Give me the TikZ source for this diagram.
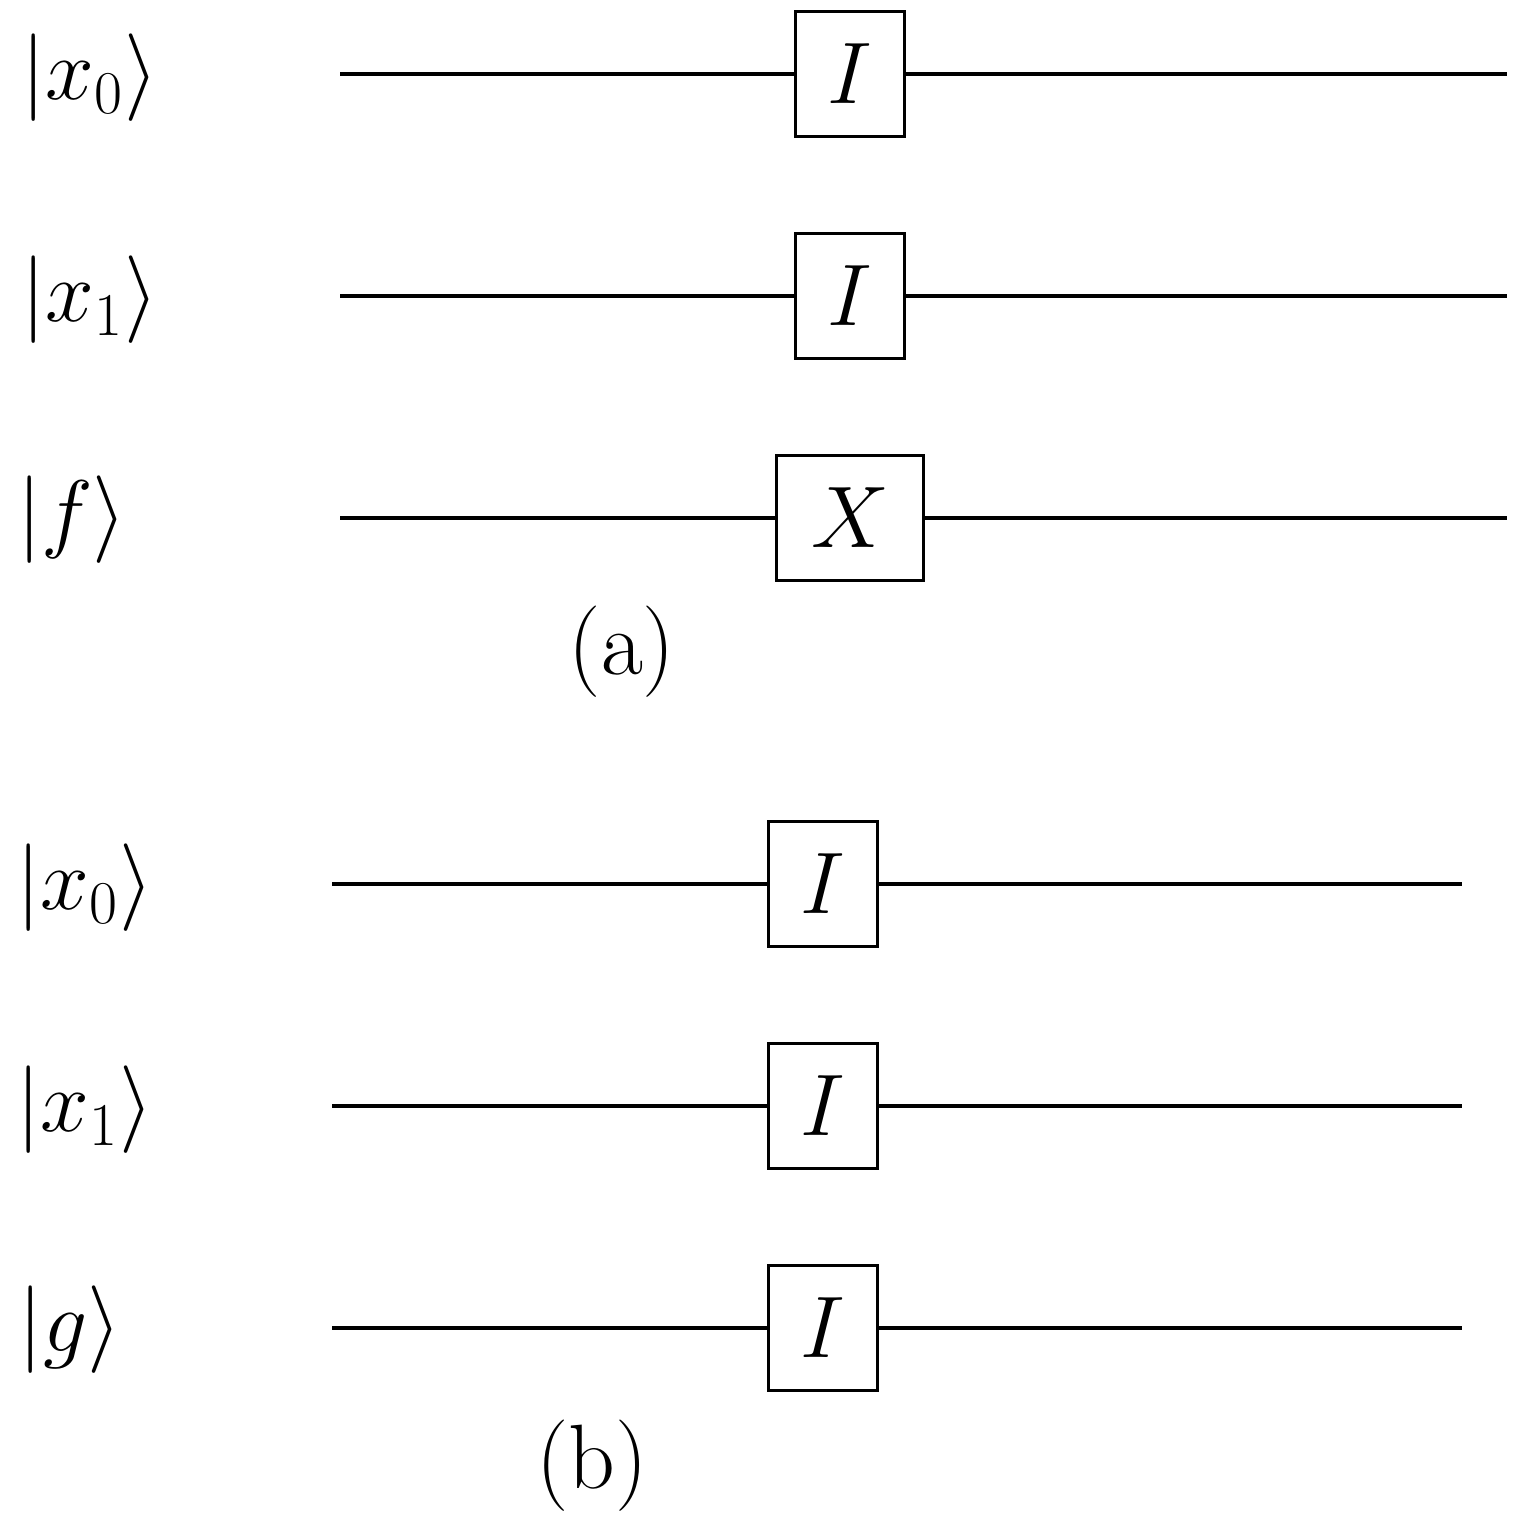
\documentclass[tikz,border=0pt]{standalone}
\begin{document}
\begin{tikzpicture}[x=0.01cm,y=-0.01cm,
  wire/.style={line width=1.2pt},
  gate/.style={draw,line width=1.1pt,fill=white,inner sep=0pt,minimum width=1.09cm,minimum height=1.25cm,font=\fontsize{26}{30}\selectfont},
  lbl/.style={font=\fontsize{26}{30}\selectfont,inner sep=0pt}]
\useasboundingbox (0,0) rectangle (1520,1520);
% (a)
\node[lbl] (la0) at (90,78) {$|x_0\rangle$};
\node[lbl] (la1) at (90,300) {$|x_1\rangle$};
\node[lbl] (la2) at (72,520) {$|f\rangle$};
\node[gate] (ga0) at (850,74) {$I$};
\node[gate] (ga1) at (850,296) {$I$};
\node[gate,minimum width=1.47cm] (ga2) at (850,518) {$X$};
\foreach \i/\y in {0/74,1/296,2/518}{
  \coordinate (sa\i) at (340,\y); \coordinate (ea\i) at (1507,\y);
  \draw[wire] (sa\i) -- (ga\i.west); \draw[wire] (ga\i.east) -- (ea\i);}
\node[lbl] (capa) at (622,652) {(a)};
% (b)
\node[lbl] (lb0) at (85,888) {$|x_0\rangle$};
\node[lbl] (lb1) at (85,1110) {$|x_1\rangle$};
\node[lbl] (lb2) at (70,1330) {$|g\rangle$};
\foreach \i/\y in {0/884,1/1106,2/1328}{
  \node[gate] (gb\i) at (823,\y) {$I$};
  \coordinate (sb\i) at (332,\y); \coordinate (eb\i) at (1462,\y);
  \draw[wire] (sb\i) -- (gb\i.west); \draw[wire] (gb\i.east) -- (eb\i);}
\node[lbl] (capb) at (592,1466) {(b)};
\end{tikzpicture}
\end{document}
